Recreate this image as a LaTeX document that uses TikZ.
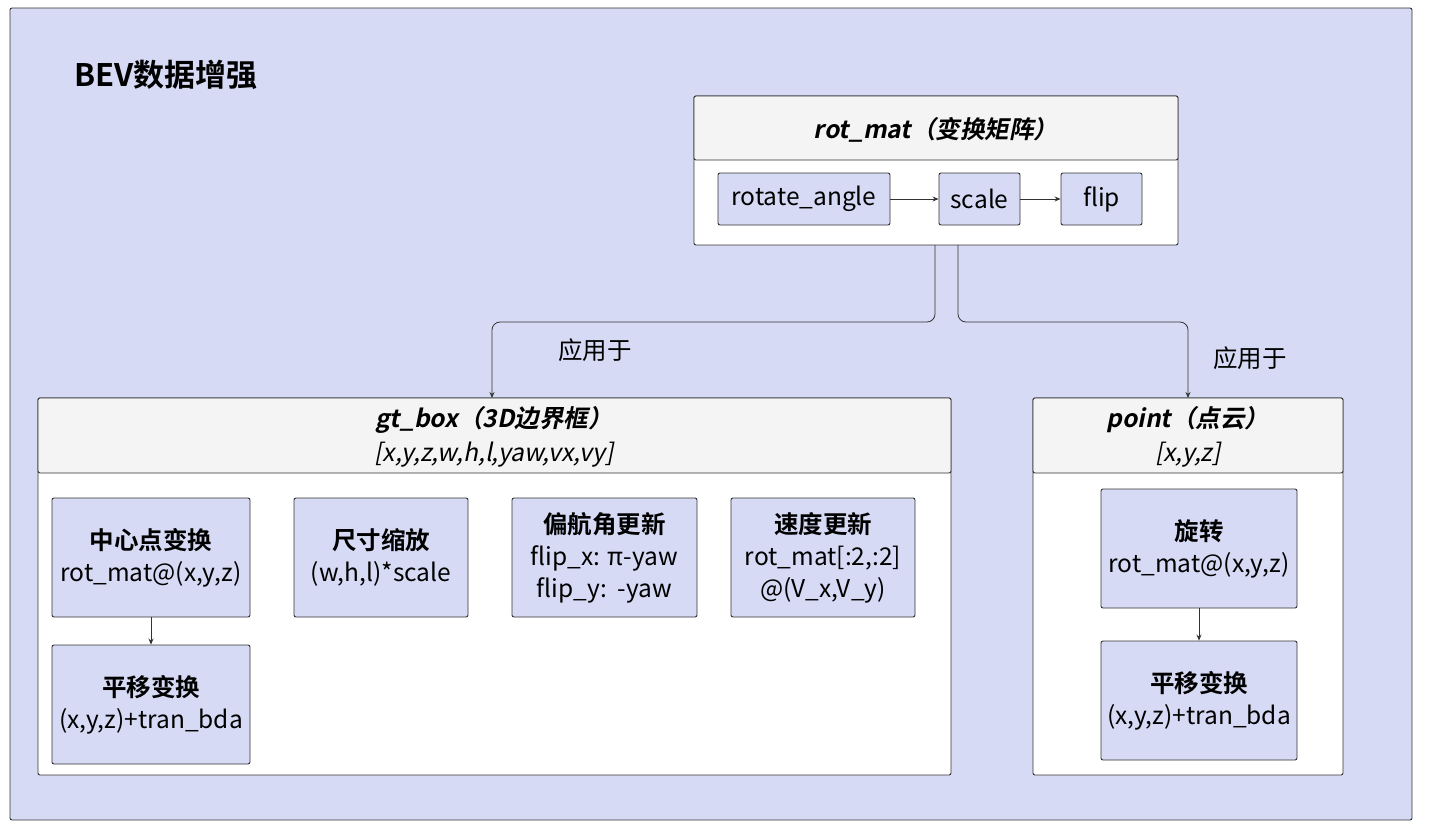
\documentclass[tikz,border=0pt]{standalone}
\usepackage{fontspec}
\setmainfont{Noto Sans CJK SC}[AutoFakeSlant=0.2,BoldFont={Noto Sans CJK SC Bold}]
\newfontfamily\bifont{Noto Sans CJK SC Bold}[FakeSlant=0.2]
\usetikzlibrary{arrows.meta}
\definecolor{bg}{HTML}{D6DAF4}
\definecolor{hd}{HTML}{F4F4F4}
\definecolor{ln}{HTML}{333333}
\begin{document}
\begin{tikzpicture}[x=1pt,y=-1pt,
  txt/.style={font=\fontsize{24.5}{32}\selectfont},
  sbox/.style={draw=ln,fill=bg,rounded corners=2pt,line width=0.9pt,align=center,txt,inner sep=0pt},
  panel/.style={draw=ln,fill=white,rounded corners=2pt,line width=0.9pt},
  arr/.style={-{Stealth[length=6pt,width=5pt]},line width=0.8pt,ln},
  conn/.style={arr,rounded corners=8pt}]
\useasboundingbox (0,0) rectangle (1430,833);
\draw[fill=bg,draw=ln,line width=0.9pt,rounded corners=2pt] (10,8) rectangle (1412,820);
\node[font=\fontsize{31}{36}\selectfont\bfseries,anchor=west] (title) at (71,75) {BEV数据增强};
% rot_mat
\draw[panel] (694,96) rectangle (1178,245);
\draw[fill=hd,draw=ln,line width=0.9pt,rounded corners=2pt] (694,96) rectangle (1178,160);
\node[font=\fontsize{24.5}{32}\selectfont\bifont] (rh) at (936,130) {rot\_mat（变换矩阵）};
\node[sbox,minimum width=172pt,minimum height=52pt] (ra) at (804,199) {rotate\_angle};
\node[sbox,minimum width=81pt,minimum height=52pt] (sc) at (979.5,199) {scale};
\node[sbox,minimum width=81pt,minimum height=52pt] (fl) at (1101.5,199) {flip};
\draw[arr] (ra) -- (sc);
\draw[arr] (sc) -- (fl);
% gt_box
\draw[panel] (38,398) rectangle (951,775);
\draw[fill=hd,draw=ln,line width=0.9pt,rounded corners=2pt] (38,398) rectangle (951,473);
\node[font=\fontsize{24.5}{32}\selectfont\bifont] (gh) at (494,420) {gt\_box（3D边界框）};
\node[txt,font=\fontsize{24.5}{32}\selectfont\itshape] (gs) at (494,455) {[x,y,z,w,h,l,yaw,vx,vy]};
\node[sbox,minimum width=198pt,minimum height=119pt] (c1) at (151,557.5) {\textbf{中心点变换}\\rot\_mat@(x,y,z)};
\node[sbox,minimum width=174pt,minimum height=119pt] (c2) at (381,557.5) {\textbf{尺寸缩放}\\(w,h,l)*scale};
\node[sbox,minimum width=185pt,minimum height=119pt] (c3) at (604.5,557.5) {\textbf{偏航角更新}\\flip\_x: π-yaw\\flip\_y:\ \ -yaw};
\node[sbox,minimum width=184pt,minimum height=119pt] (c4) at (823,557.5) {\textbf{速度更新}\\rot\_mat[:2,:2]\\@(V\_x,V\_y)};
\node[sbox,minimum width=198pt,minimum height=119pt] (c5) at (151,704.5) {\textbf{平移变换}\\(x,y,z)+tran\_bda};
\draw[arr] (c1) -- (c5);
% point
\draw[panel] (1033,398) rectangle (1343,775);
\draw[fill=hd,draw=ln,line width=0.9pt,rounded corners=2pt] (1033,398) rectangle (1343,473);
\node[font=\fontsize{24.5}{32}\selectfont\bifont] (ph) at (1188,420) {point（点云）};
\node[txt,font=\fontsize{24.5}{32}\selectfont\itshape] (ps) at (1188,455) {[x,y,z]};
\node[sbox,minimum width=196pt,minimum height=119pt] (p1) at (1199,548.5) {\textbf{旋转}\\rot\_mat@(x,y,z)};
\node[sbox,minimum width=196pt,minimum height=119pt] (p2) at (1199,700.5) {\textbf{平移变换}\\(x,y,z)+tran\_bda};
\draw[arr] (p1) -- (p2);
% connectors
\coordinate (g) at (492,398);
\coordinate (p) at (1188,398);
\draw[conn] (935,245) -- (935,322) -- (492,322) -- (g);
\draw[conn] (958,245) -- (958,322) -- (1188,322) -- (p);
\node[txt] (l1) at (595,350) {应用于};
\node[txt] (l2) at (1250,358) {应用于};
\end{tikzpicture}
\end{document}
